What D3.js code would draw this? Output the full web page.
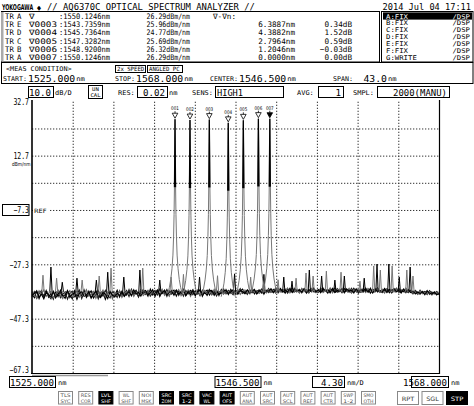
<!DOCTYPE html>
<html><head><meta charset="utf-8">
<script src="https://cdn.jsdelivr.net/npm/d3@7"></script>
<style>body{margin:0;background:#fff}svg{display:block}</style>
</head><body><svg id="c" width="474" height="406"></svg>
<script>
// ---------- data ----------
const xDomain=[1525,1568];
const yDomain=[-67.3,32.7];
const yTickVals=[32.7,12.7,-7.3,-27.3,-47.3,-67.3];
const yGridVals=[22.7,12.7,2.7,-7.3,-17.3,-27.3,-37.3,-47.3,-57.3];
const xGridVals=[1529.3,1533.6,1537.9,1542.2,1546.5,1550.8,1555.1,1559.4,1563.7];
const xLabelVals=[1525.000,1546.500,1568.000];

// marker table
const mkTrace=["A","E","D","C","B","A"];
const mkName=["∇","∇0003","∇0004","∇0005","∇0006","∇0007"];
const mkWl=[1550.1246,1543.7359,1545.7364,1547.3282,1548.9200,1550.1246];
const mkLvl=[26.29,25.96,24.77,25.69,26.32,26.29];
const mkDiff=[null,6.3887,4.3882,2.7964,1.2046,0.0000];
const mkDiffDb=[null,0.34,1.52,0.59,-0.03,0.00];
const traceStates=["A:FIX","B:FIX","C:FIX","D:FIX","E:FIX","F:FIX","G:WRITE"];

// peaks (markers 001..007)
const peakLabels=["001","002","003","004","005","006","007"];
const peakWl=[1540.11,1541.69,1543.7359,1545.7364,1547.3282,1548.9200,1550.1246];
const peakLvl=[26.1,25.8,25.96,24.77,25.69,26.32,26.29];
const peakOffset=[-0.75,-0.6,-0.45,-0.32,-0.22,-0.15,-0.1,-0.06,-0.02,0,0.02,0.06,0.1,0.15,0.22,0.32,0.45,0.6,0.75];
const peakShape=[-64,-62,-59,-55,-50,-43,-35,-25,-8,0,-8,-25,-35,-43,-50,-55,-59,-62,-64];

// noise floor traces, sampled every 0.25 nm from 1525 nm
const noiseStart=1525, noiseStep=0.25;
const noise1=[-38.1,-39.6,-37.2,-39.9,-37.8,-38.9,-36.9,-39.4,-38.0,-40.1,-37.5,-39.2,-36.8,-38.7,-39.8,-37.3,-38.5,-40.0,-37.0,-39.1,-37.9,-38.8,-36.7,-39.5,-38.2,-37.1,-39.7,-38.4,-36.9,-39.3,-37.6,-40.2,-38.0,-37.2,-39.0,-38.6,-36.8,-39.4,-37.7,-38.9,
-37.0,-39.1,-36.5,-38.4,-37.2,-39.3,-36.9,-38.0,-37.5,-39.0,-36.4,-38.6,-37.8,-36.7,-39.2,-37.3,-38.1,-36.6,-38.8,-37.4,-36.8,-39.0,-37.1,-38.3,-36.5,-38.9,-37.6,-36.9,-38.5,-37.0,-38.2,-36.6,-39.1,-37.4,-36.8,-38.6,-37.2,-38.0,-36.7,-38.8,
-36.6,-38.1,-37.0,-38.4,-36.5,-37.8,-36.9,-38.3,-37.2,-36.4,-38.0,-36.8,-37.6,-36.3,-38.2,-37.1,-36.7,-37.9,-36.5,-37.7,
-36.2,-37.6,-36.5,-37.8,-36.1,-37.3,-36.7,-37.9,-36.4,-37.2,-36.0,-37.5,-36.8,-37.7,-36.3,-37.0,-36.6,-37.8,-36.2,-37.4,-36.9,-37.6,-36.1,-37.3,-36.5,-37.9,-36.4,-37.1,-36.0,-37.5,-36.7,-37.8,-36.3,-37.2,-36.6,-37.7,-36.1,-37.4,-36.8,-37.6,-36.2,-37.0,-36.5,-37.9,-36.4,-37.3,-36.0,-37.5,-36.7,-37.1,-36.3,-37.8,-36.6,-37.2,-36.1,-37.6,-36.9,-37.4,-36.2,-37.7,
-36.9,-38.0,-37.1,-38.3,-36.8,-37.9,-37.3,-38.4,-37.0,-38.1,-37.5,-38.6,-37.8];
const noise2=[-39.2,-37.4,-39.8,-38.1,-36.9,-39.5,-37.7,-38.8,-40.0,-37.3,-38.9,-37.0,-39.6,-38.3,-37.5,-40.1,-38.0,-37.2,-39.3,-38.6,-36.8,-39.9,-37.9,-38.5,-37.1,-39.4,-38.2,-37.6,-40.0,-37.8,-39.0,-36.9,-38.7,-39.7,-37.4,-38.1,-39.5,-37.0,-38.9,-37.6,
-38.7,-36.6,-38.9,-37.5,-36.8,-39.2,-37.9,-36.5,-38.4,-37.1,-39.0,-37.7,-36.9,-38.6,-36.4,-38.1,-37.3,-39.1,-37.0,-38.3,-37.5,-36.7,-38.8,-37.2,-39.0,-36.9,-38.2,-37.6,-36.6,-38.7,-37.4,-38.9,-36.8,-38.0,-37.7,-36.5,-38.5,-37.1,-39.0,-37.3,
-37.9,-36.4,-38.2,-36.9,-37.6,-38.5,-36.7,-37.4,-36.2,-38.0,-37.3,-38.4,-36.6,-37.8,-36.9,-38.1,-37.5,-36.4,-38.3,-36.8,
-37.7,-36.3,-37.4,-36.0,-37.8,-36.6,-37.2,-36.4,-37.9,-36.7,-37.5,-36.1,-37.3,-36.5,-37.8,-36.2,-37.6,-36.9,-37.1,-36.3,-37.7,-36.6,-37.4,-36.0,-37.2,-36.8,-37.9,-36.4,-37.5,-36.2,-37.0,-36.5,-37.8,-36.3,-37.6,-36.1,-37.3,-36.7,-37.9,-36.4,-37.5,-36.0,-37.2,-36.6,-37.8,-36.3,-37.4,-36.9,-37.7,-36.2,-37.1,-36.5,-37.9,-36.7,-37.3,-36.1,-37.6,-36.4,-37.8,-36.6,
-37.4,-38.2,-36.9,-37.8,-38.3,-37.2,-38.0,-36.9,-38.4,-37.6,-38.2,-37.3,-38.5];
const noise3=[-37.6,-38.9,-39.7,-37.0,-38.4,-36.7,-39.1,-38.0,-37.4,-39.6,-38.2,-36.9,-38.7,-39.9,-37.5,-38.1,-37.0,-39.3,-38.6,-37.2,-39.4,-37.8,-38.3,-36.6,-39.0,-38.5,-37.3,-39.8,-37.9,-38.4,-36.8,-39.2,-38.1,-37.5,-40.0,-37.6,-38.8,-37.1,-39.5,-38.0,
-37.3,-38.5,-36.9,-39.1,-37.6,-38.2,-36.6,-38.8,-37.9,-36.8,-38.4,-37.0,-39.2,-37.5,-38.0,-36.5,-38.7,-37.2,-39.0,-36.9,-38.1,-37.7,-36.6,-38.9,-37.4,-38.3,-36.8,-39.1,-37.3,-38.0,-36.7,-38.6,-37.5,-36.9,-38.8,-37.1,-38.4,-36.5,-38.2,-37.7,
-37.0,-38.3,-36.5,-37.7,-38.1,-36.8,-37.9,-36.6,-38.4,-37.2,-36.7,-37.5,-38.2,-36.3,-37.6,-36.9,-38.0,-37.3,-36.5,-37.8,
-36.5,-37.3,-36.9,-37.7,-36.2,-37.5,-36.8,-37.1,-36.0,-37.8,-36.6,-37.2,-36.4,-37.9,-36.1,-37.4,-36.7,-37.6,-36.3,-37.0,-36.8,-37.5,-36.2,-37.7,-36.6,-37.3,-36.0,-37.8,-36.5,-37.1,-36.4,-37.6,-36.9,-37.2,-36.1,-37.9,-36.7,-37.3,-36.3,-37.5,-36.6,-37.7,-36.2,-37.1,-36.8,-37.4,-36.0,-37.6,-36.5,-37.9,-36.4,-37.2,-36.7,-37.5,-36.3,-37.8,-36.6,-37.0,-36.1,-37.4,
-37.2,-37.9,-37.5,-38.4,-37.0,-38.1,-37.6,-38.3,-37.3,-38.6,-37.7,-38.0,-37.9];
const noise4=[-38.8,-38.0,-37.1,-39.4,-38.3,-40.0,-37.6,-38.5,-39.2,-37.4,-39.7,-38.1,-37.7,-39.0,-38.8,-36.9,-39.5,-38.3,-37.8,-40.2,-38.0,-37.3,-39.1,-38.7,-37.5,-39.8,-38.4,-37.0,-38.9,-39.6,-37.7,-38.2,-39.9,-37.4,-38.6,-39.3,-37.9,-38.8,-37.2,-39.1,
-38.1,-37.4,-38.8,-36.7,-38.3,-37.6,-39.0,-37.3,-36.9,-38.5,-37.8,-36.6,-38.9,-37.1,-38.4,-37.9,-36.8,-38.6,-37.6,-37.0,-38.7,-36.9,-38.2,-37.5,-36.7,-38.8,-37.3,-38.4,-37.0,-38.9,-37.2,-36.8,-38.3,-37.8,-38.6,-37.0,-36.9,-38.7,-37.4,-38.1,
-38.1,-37.1,-36.8,-38.0,-37.5,-36.6,-38.3,-37.7,-36.9,-37.4,-38.1,-36.7,-37.9,-37.2,-36.5,-38.2,-36.9,-37.6,-38.0,-37.1,
-37.1,-36.4,-37.8,-36.7,-37.3,-36.2,-37.6,-36.9,-37.4,-36.1,-37.7,-36.5,-37.0,-36.8,-37.5,-36.3,-37.9,-36.6,-37.2,-36.0,-37.4,-36.7,-37.8,-36.4,-37.0,-36.6,-37.5,-36.1,-37.7,-36.9,-37.3,-36.2,-37.6,-36.5,-37.1,-36.8,-37.9,-36.3,-37.4,-36.7,-37.0,-36.4,-37.6,-36.1,-37.8,-36.5,-37.2,-36.9,-37.5,-36.3,-37.7,-36.6,-37.0,-36.2,-37.4,-36.8,-37.9,-36.5,-37.3,-36.7,
-37.7,-37.1,-38.2,-37.5,-38.0,-37.4,-38.5,-37.2,-37.9,-38.3,-37.6,-38.4,-38.1];
const noiseSets=[noise1,noise2,noise3,noise4];
const noiseColors=["#000","#222","#666","#000"];

// spurious spikes above the floor
const spurWl=[1526.16,1527.00,1527.60,1528.20,1529.75,1530.30,1531.80,1532.10,1533.00,1533.35,1534.70,1536.40,1536.70,1538.50,1539.70,
 1541.00,1542.70,1544.60,1546.40,1548.10,1549.50,1551.00,1551.60,
 1552.47,1552.90,1553.95,1554.30,1554.70,1555.60,1556.10,1557.00,1557.65,1558.00,1559.65,1560.10,1561.10,1561.45,1561.80,1562.70,1563.05,1563.80,1564.60,1564.95,1565.25];
const spurTop=[-31.3,-28.3,-32.4,-33.9,-32.4,-33.1,-33.1,-31.6,-30.2,-28.7,-32.0,-29.4,-28.7,-33.1,-32.0,
 -31.0,-32.0,-31.5,-30.8,-32.0,-31.0,-33.0,-32.0,
 -33.5,-32.4,-30.5,-29.4,-31.6,-31.6,-29.8,-33.1,-30.2,-31.6,-33.5,-32.4,-27.9,-27.2,-29.4,-27.2,-27.9,-32.0,-29.4,-28.3,-31.6];
const spurShade=[1,0,1,0,0,1,0,1,0,1,0,0,1,0,1, 1,0,1,0,1,0,1,0, 0,1,1,0,1,0,1,0,1,0,1,0,1,0,1,0,1,0,1,0,1];
const spurBase=-37.4;
const spurHalf=0.12;

// buttons
const btnTop=["TLS","RES","LVL","WL","NOI","SRC","SRC","VAC","AUT","AUT","AUT","AUT","AUT","AUT","SWP","SMO"];
const btnBot=["SYC","COR","SHF","SHF","MSK","ZOM","1-2","WL","OFS","ANA","SRC","SCL","REF","CTR","1-2","OTH"];
const btnOn=[0,0,1,0,0,1,1,1,1,0,0,0,0,0,0,0];
const btn2=["RPT","SGL","STP"];
const btn2On=[0,0,1];

// ---------- drawing ----------
const svg=d3.select('#c');
const x=d3.scaleLinear(xDomain,[32,439]);
const y=d3.scaleLinear(yDomain,[373,101.3]);
const f4=d3.format(".4f"), f2=d3.format(".2f"), f1=d3.format(".1f"), f3=d3.format(".3f");

function T(g,px,py,s,o={}){
  const t=g.append('text').attr('x',px).attr('y',py).text(s)
    .attr('font-family',o.f||'DejaVu Sans Mono').attr('font-size',o.fs||8)
    .attr('fill',o.c||'#000');
  if(o.cw) t.attr('textLength',s.length*o.cw).attr('lengthAdjust','spacingAndGlyphs');
  if(o.len) t.attr('textLength',o.len).attr('lengthAdjust','spacingAndGlyphs');
  if(o.a) t.attr('text-anchor',o.a);
  if(o.w) t.attr('font-weight',o.w);
  return t;
}
function R(g,px,py,w,h,o={}){
  return g.append('rect').attr('x',px).attr('y',py).attr('width',w).attr('height',h)
    .attr('fill',o.fill||'#fff').attr('stroke',o.stroke||'#000').attr('stroke-width',o.sw==null?1:o.sw);
}

// header
const logo=svg.append('g').attr('transform','translate(2,9.5) scale(0.6,1)');
T(logo,0,0,"YOKOGAWA",{f:'DejaVu Sans',fs:8,w:'bold'});
const dia=svg.append('g').attr('transform','translate(37,9.5) scale(0.8,1)');
T(dia,0,0,"◆",{f:'DejaVu Sans',fs:6.5});
T(svg,47,9.5,"// AQ6370C OPTICAL SPECTRUM ANALYZER //",{fs:8,cw:5.33});
T(svg,471,9.5,"2014 Jul 04 17:11",{fs:8,cw:5.2,a:'end'});

// marker table box
R(svg,1.5,11.5,378,50.5,{});
R(svg,1,12,2.5,49.5,{fill:'#aaa',sw:0});
mkTrace.forEach((tr,i)=>{
  const b=19+i*8.2;
  const fs=7.6;
  T(svg,5,b,"TR",{fs,cw:4.4});
  T(svg,17,b,tr,{fs,cw:4.4});
  T(svg,29,b,mkName[i],{fs,cw:5.6});
  T(svg,59,b,":"+f4(mkWl[i])+"nm",{fs,cw:4.25});
  T(svg,190,b,f2(mkLvl[i])+"dBm/nm",{fs,cw:3.95,a:'end'});
  if(mkDiff[i]==null){
    T(svg,213,b,"∇-∇n:",{fs,cw:4.6});
  } else {
    T(svg,295,b,f4(mkDiff[i])+"nm",{fs,cw:4.6,a:'end'});
    T(svg,352,b,f2(mkDiffDb[i])+"dB",{fs,cw:4.6,a:'end'});
  }
});

// trace status box
R(svg,381.5,11.5,91.5,50.5,{});
traceStates.forEach((s,i)=>{
  const cy=16+i*6.9;
  const on=i===0;
  if(on) R(svg,383,cy-3.6,89,7.2,{fill:'#000',sw:0});
  T(svg,386,cy+2.5,s,{fs:6.4,cw:4.4,c:on?'#fff':'#000'});
  T(svg,470,cy+2.5,"/DSP",{fs:6.4,cw:4.4,a:'end',c:on?'#fff':'#000'});
});

// measurement condition box
R(svg,1.5,62.5,471.5,21,{});
T(svg,6,71,"<MEAS CONDITION>",{fs:6.5,cw:4.1});
R(svg,115.5,65.5,30,7,{});
T(svg,117,71.2,"2x SPEED",{fs:5.8,cw:3.4});
R(svg,147.5,65.5,35,7,{});
T(svg,149,71.2,"ANGLED PC",{fs:5.8,cw:3.4});
function startStop(px,label,val,unit){
  T(svg,px,81,label,{fs:6.5,cw:4.0});
  const vx=px+label.length*4.0+1;
  T(svg,vx,81.5,val,{fs:9,cw:5.9});
  T(svg,vx+val.length*5.9+1,81,unit,{fs:6.5,cw:4.3});
}
startStop(3,"START:",f3(xDomain[0]),"nm");
startStop(115,"STOP:",f3(xDomain[1]),"nm");
startStop(210,"CENTER:",f3((xDomain[0]+xDomain[1])/2),"nm");
T(svg,333,81,"SPAN:",{fs:6.5,cw:4.0});
T(svg,387,81.5,f1(xDomain[1]-xDomain[0]),{fs:9,cw:5.9,a:'end'});
T(svg,388,81,"nm",{fs:6.5,cw:4.3});

// settings row
R(svg,28.5,86.5,25,11,{});
T(svg,51,95.5,"10.0",{fs:9,cw:5.5,a:'end'});
T(svg,55,95,"dB/D",{fs:6.5,cw:4.2});
R(svg,88.5,85.5,14,13,{});
T(svg,95.5,91,"UN",{fs:5,cw:3.4,a:'middle'});
T(svg,95.5,97,"CAL",{fs:5,cw:3.4,a:'middle'});
T(svg,118,95,"RES:",{fs:6.5,cw:4.2});
R(svg,137.5,86.5,30,11,{});
T(svg,165,95.5,"0.02",{fs:9,cw:5.5,a:'end'});
T(svg,169,95,"nm",{fs:6.5,cw:4.2});
T(svg,192,95,"SENS:",{fs:6.5,cw:4.2});
R(svg,215.5,86.5,68,11,{});
T(svg,217,95.5,"HIGH1",{fs:9,cw:5.2});
T(svg,297,95,"AVG:",{fs:6.5,cw:4.2});
R(svg,318.5,86.5,25,11,{});
T(svg,341,95.5,"1",{fs:9,cw:5.5,a:'end'});
T(svg,353,95,"SMPL:",{fs:6.5,cw:4.2});
R(svg,377.5,86.5,72,11,{});
T(svg,447,95.5,"2000(MANU)",{fs:9,cw:5.4,a:'end'});

// plot: grid
const plot=svg.append('g');
const gy=plot.append('g').attr('transform','translate(32,0)')
  .call(d3.axisLeft(y).tickValues(yGridVals).tickSize(-(439-32)).tickFormat(''));
const gx=plot.append('g').attr('transform','translate(0,373)')
  .call(d3.axisBottom(x).tickValues(xGridVals).tickSize(-(373-101.3)).tickFormat(''));
[gy,gx].forEach(g=>{g.select('.domain').remove();
  g.selectAll('line').attr('stroke','#333').attr('stroke-width',1).attr('stroke-dasharray','1.3,1.7');});

// REF label over the reference grid line
R(plot,33,205,16,9,{sw:0});
T(plot,34,212.5,"REF",{f:'DejaVu Sans',fs:6,cw:4.2});

// noise floor traces
const line=d3.line().x(d=>x(d[0])).y(d=>y(d[1]));
noiseSets.forEach((arr,k)=>{
  const pts=arr.map((v,i)=>[noiseStart+i*noiseStep,v]);
  plot.append('path').attr('d',line(pts)).attr('fill','none')
    .attr('stroke',noiseColors[k]).attr('stroke-width',1.1);
});

// spurs
spurWl.forEach((w,i)=>{
  const pts=[[w-spurHalf,spurBase],[w,spurTop[i]],[w+spurHalf,spurBase]];
  plot.append('path').attr('d',line(pts)).attr('fill','none')
    .attr('stroke',spurShade[i]?'#777':'#000').attr('stroke-width',1);
});

// peaks
peakWl.forEach((w,i)=>{
  const pts=peakOffset.map((o,j)=>[w+o,peakLvl[i]+peakShape[j]]);
  plot.append('path').attr('d',line(pts)).attr('fill','none')
    .attr('stroke','#777').attr('stroke-width',1);
  const top=pts.filter((p,j)=>peakShape[j]>=-26);
  plot.append('path').attr('d',line(top)).attr('fill','none')
    .attr('stroke','#000').attr('stroke-width',1.2);
});

// markers
peakWl.forEach((w,i)=>{
  const px=x(w), py=y(peakLvl[i])-1;
  plot.append('path').attr('d',`M${px-2.8},${py-5}L${px+2.8},${py-5}L${px},${py}Z`)
    .attr('fill',i===peakWl.length-1?'#000':'#fff').attr('stroke','#000').attr('stroke-width',0.8);
  plot.append('line').attr('x1',px).attr('x2',px).attr('y1',py-5).attr('y2',py-7).attr('stroke','#000').attr('stroke-width',0.8);
  T(plot,px,py-8,peakLabels[i],{f:'DejaVu Sans',fs:5,cw:2.6,a:'middle'});
});

// frame
plot.append('line').attr('x1',32).attr('x2',32).attr('y1',100).attr('y2',374).attr('stroke','#000').attr('stroke-width',1.6);
plot.append('line').attr('x1',31).attr('x2',439.5).attr('y1',373.5).attr('y2',373.5).attr('stroke','#000').attr('stroke-width',1.2);
plot.append('line').attr('x1',439.5).attr('x2',439.5).attr('y1',100).attr('y2',374).attr('stroke','#000').attr('stroke-width',1.2);
plot.append('line').attr('x1',32).attr('x2',108).attr('y1',375.5).attr('y2',375.5).attr('stroke','#999').attr('stroke-width',1.5);

// y axis labels
const ya=svg.append('g').attr('transform','translate(32,0)')
  .call(d3.axisLeft(y).tickValues(yTickVals).tickSize(0).tickPadding(3).tickFormat(f1));
ya.select('.domain').remove();
ya.selectAll('text').attr('font-family','DejaVu Sans Mono').attr('font-size',8.5)
  .attr('fill','#000')
  .each(function(d){const s=f1(d); d3.select(this).attr('textLength',s.length*3.9).attr('lengthAdjust','spacingAndGlyphs');})
  .attr('dy',d=>d===yDomain[0]?'-0.1em':'0.32em');
// boxed reference level
R(svg,2.5,204.5,26.5,11,{fill:'none'});
T(svg,12,166,"dBm/nm",{f:'DejaVu Sans',fs:5.5,cw:3.1});

// bottom wavelength labels
function wlBox(bx,w,val,unit){
  R(svg,bx+0.5,376.5,w,11,{});
  T(svg,bx+w-1,385.5,val,{fs:9,cw:5.5,a:'end'});
  T(svg,bx+w+3,385,unit,{fs:6.5,cw:4.2});
}
wlBox(9,46,f3(xLabelVals[0]),"nm");
wlBox(x(xLabelVals[1])-21,46,f3(xLabelVals[1]),"nm");
wlBox(312,32,f2((xDomain[1]-xDomain[0])/10),"nm/D");
wlBox(x(xLabelVals[2])-28,37,f3(xLabelVals[2]),"nm");

// buttons
btnTop.forEach((t,i)=>{
  const bx=58+i*20.2, on=btnOn[i];
  R(svg,bx+0.5,391.5,14,12.5,{fill:on?'#000':'#fff',stroke:on?'#000':'#888'});
  T(svg,bx+7.5,397,t,{f:'DejaVu Sans',fs:4.8,cw:3.3,a:'middle',c:on?'#fff':'#555'});
  T(svg,bx+7.5,403,btnBot[i],{f:'DejaVu Sans',fs:4.8,cw:3.3,a:'middle',c:on?'#fff':'#555'});
});
btn2.forEach((t,i)=>{
  const bx=397+i*24.5, on=btn2On[i];
  R(svg,bx+0.5,391.5,21,13,{fill:on?'#000':'#fff',stroke:on?'#000':'#888'});
  T(svg,bx+11,400.5,t,{f:'DejaVu Sans',fs:6,cw:4.2,a:'middle',c:on?'#fff':'#333'});
});
</script></body></html>
